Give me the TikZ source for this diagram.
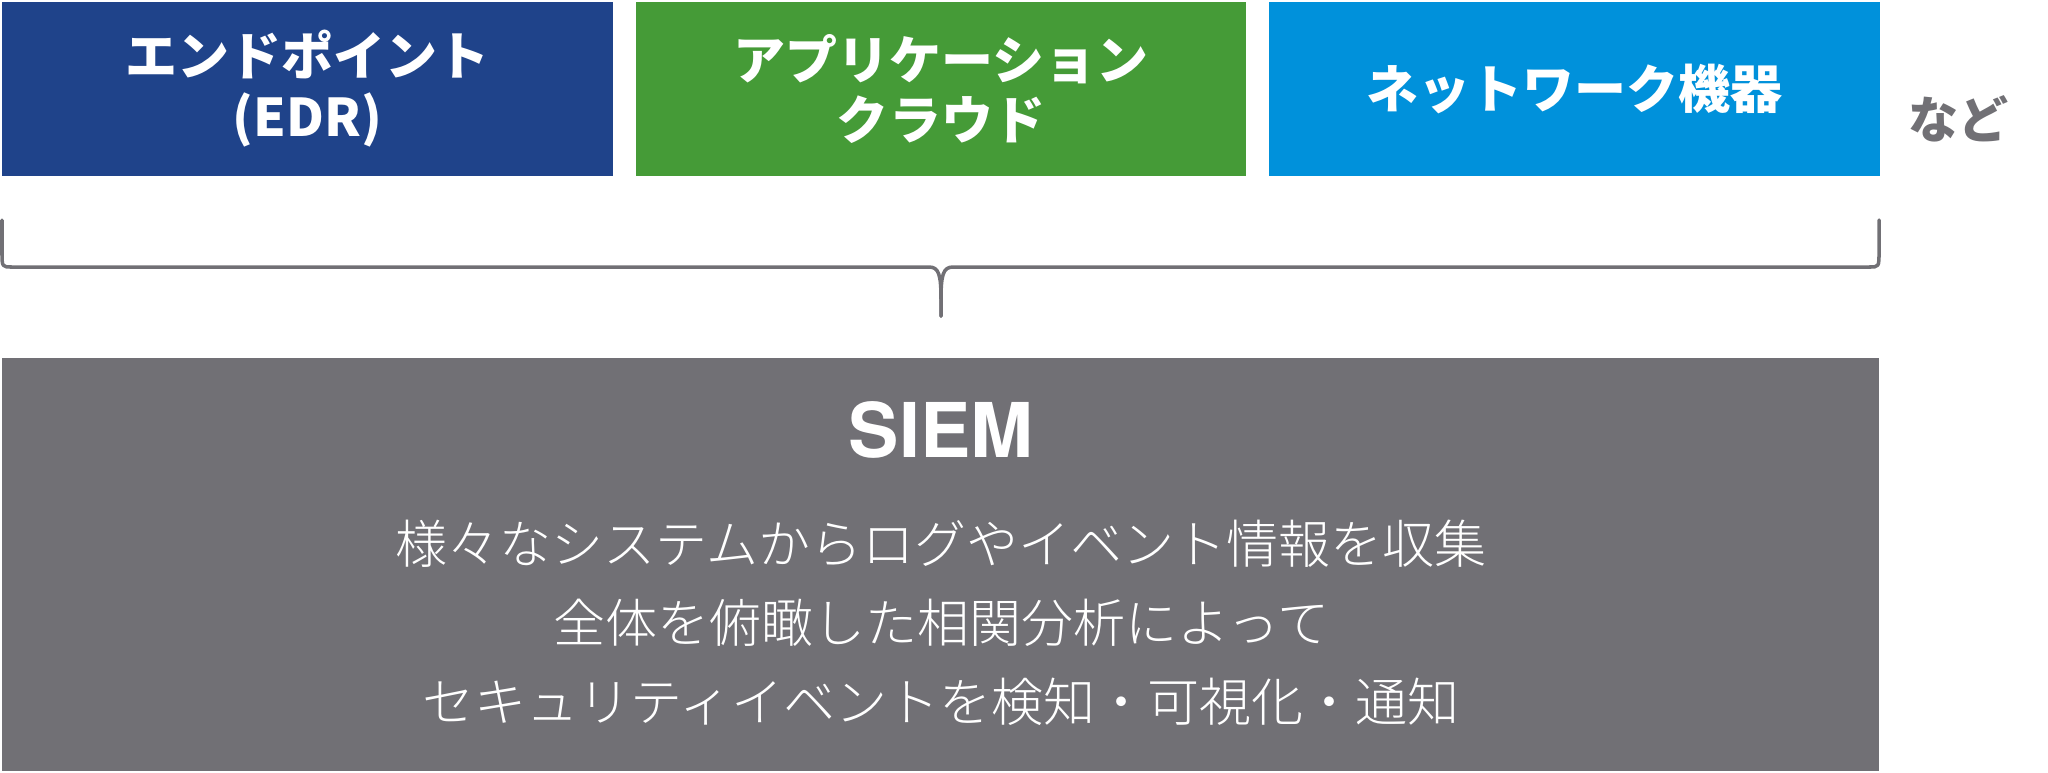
\documentclass[tikz,border=0pt]{standalone}
\usepackage{fontspec}
\setmainfont{Noto Sans CJK JP}
\newfontfamily\heros{TeX Gyre Heros}
\IfFontExistsTF{Noto Sans CJK JP Light}{\newfontfamily\jplight{Noto Sans CJK JP Light}}{\newfontfamily\jplight{Noto Sans CJK JP}}
\usetikzlibrary{positioning,calc}
\definecolor{edrblue}{HTML}{1F438A}
\definecolor{cloudgreen}{HTML}{459B37}
\definecolor{netblue}{HTML}{0091DB}
\definecolor{siemgray}{HTML}{717075}
\tikzset{
  srcbox/.style={fill=#1,draw=none,inner sep=0pt,minimum width=12.22cm,minimum height=3.48cm,align=center,text=white,font=\bfseries\fontsize{29.6pt}{34.7pt}\selectfont},
  bracket/.style={draw=siemgray,line width=2pt,line cap=round,line join=round}
}

\begin{document}
\begin{tikzpicture}[x=0.02cm,y=-0.02cm]
\useasboundingbox (0,0) rectangle (2048,772);
\node[srcbox=edrblue] (endpoint) at (307.5,89) {エンドポイント\\(EDR)};
\node[srcbox=cloudgreen] (appcloud) at (941,89) {アプリケーション\\クラウド};
\node[srcbox=netblue] (network) at (1574.5,89) {ネットワーク機器};
\node[text=siemgray,font=\bfseries\fontsize{28.5pt}{30pt}\selectfont,anchor=west,inner sep=0pt] (nado) at (1908,119) {など};
\node[fill=siemgray,inner sep=0pt,minimum width=37.54cm,minimum height=8.26cm] (siembox) at (940.5,564.5) {};
\node[text=white,font=\heros\bfseries\fontsize{43pt}{45pt}\selectfont,inner sep=0pt] (siem) at (941,430) {SIEM};
\node[text=white,align=center,font=\jplight\fontsize{29.6pt}{45pt}\selectfont,inner sep=0pt] (siemtext) at (941,623) {様々なシステムからログやイベント情報を収集\\全体を俯瞰した相関分析によって\\セキュリティイベントを検知・可視化・通知};
% brace under the three sources
\coordinate (bl) at (2,220);
\coordinate (br) at (1879,220);
\coordinate (tip) at (941,316);
\draw[bracket] (bl) -- (2,252) .. controls (2,267) .. (12,267) -- (929,267) .. controls (939,267) and (941,275) .. (941,300) -- (tip);
\draw[bracket] (br) -- (1879,252) .. controls (1879,267) .. (1869,267) -- (953,267) .. controls (943,267) and (941,275) .. (941,300) -- (tip);
\end{tikzpicture}
\end{document}
